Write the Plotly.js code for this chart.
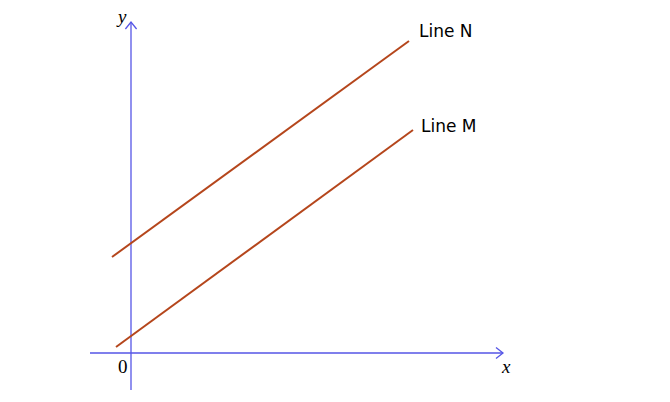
<!DOCTYPE html>
<html><head><meta charset="utf-8">
<script src="https://cdn.plot.ly/plotly-3.0.1.min.js"></script>
<style>html,body{margin:0;padding:0;background:#fff}</style>
</head><body><div id="chart" style="width:670px;height:402px"></div>
<script>
// Data (arbitrary units, origin at axes intersection)
const lineNames = ["Line N", "Line M"];
const lineN_x = [-1.9, 27.8];
const lineN_y = [9.6, 31.2];
const lineM_x = [-1.5, 28.2];
const lineM_y = [0.6, 22.3];
const xAxisExtent = [-4.1, 37.2];
const yAxisExtent = [-3.7, 33.1];

const axisColor = "#5555e6";
const lineColor = "#b5461c";

function chevron(tipX, tipY, dir) {
  const s = 0.7;
  if (dir === "right") return {x:[tipX - s, tipX, tipX - s], y:[tipY + s*0.8, tipY, tipY - s*0.8]};
  return {x:[tipX - s*0.8, tipX, tipX + s*0.8], y:[tipY - s, tipY, tipY - s]};
}
const cx = chevron(xAxisExtent[1], 0, "right");
const cy = chevron(0, yAxisExtent[1], "up");

const traces = [
  {x: xAxisExtent, y: [0, 0], mode: "lines", line: {color: axisColor, width: 1.3}, hoverinfo: "skip"},
  {x: [0, 0], y: yAxisExtent, mode: "lines", line: {color: axisColor, width: 1.3}, hoverinfo: "skip"},
  {x: cx.x, y: cx.y, mode: "lines", line: {color: axisColor, width: 1.3}, hoverinfo: "skip"},
  {x: cy.x, y: cy.y, mode: "lines", line: {color: axisColor, width: 1.3}, hoverinfo: "skip"},
  {x: lineN_x, y: lineN_y, mode: "lines", name: lineNames[0], line: {color: lineColor, width: 2}},
  {x: lineM_x, y: lineM_y, mode: "lines", name: lineNames[1], line: {color: lineColor, width: 2}}
];

const annotations = [
  {x: lineN_x[1] + 0.8, y: lineN_y[1] + 1.0, text: lineNames[0], showarrow: false, xanchor: "left", yanchor: "middle",
   font: {family: "DejaVu Sans, sans-serif", size: 17, color: "#000"}},
  {x: lineM_x[1] + 0.6, y: lineM_y[1] + 0.4, text: lineNames[1], showarrow: false, xanchor: "left", yanchor: "middle",
   font: {family: "DejaVu Sans, sans-serif", size: 17, color: "#000"}},
  {x: xAxisExtent[1] + 0.3, y: -1.3, text: "<i>x</i>", showarrow: false, xanchor: "center", yanchor: "middle",
   font: {family: "Liberation Serif, DejaVu Serif, serif", size: 19, color: "#000"}},
  {x: -0.2, y: yAxisExtent[1] + 0.6, text: "<i>y</i>", showarrow: false, xanchor: "right", yanchor: "middle",
   font: {family: "Liberation Serif, DejaVu Serif, serif", size: 19, color: "#000"}},
  {x: -0.8, y: -1.3, text: "0", showarrow: false, xanchor: "center", yanchor: "middle",
   font: {family: "Liberation Serif, DejaVu Serif, serif", size: 19, color: "#000"}}
];

const layout = {
  width: 670, height: 402,
  margin: {l: 0, r: 0, t: 0, b: 0},
  paper_bgcolor: "#fff", plot_bgcolor: "#fff",
  showlegend: false,
  xaxis: {range: [-13.1, 53.9], visible: false, fixedrange: true},
  yaxis: {range: [-4.9, 35.3], visible: false, fixedrange: true},
  annotations: annotations
};
Plotly.newPlot("chart", traces, layout, {displayModeBar: false, staticPlot: true});
</script></body></html>
